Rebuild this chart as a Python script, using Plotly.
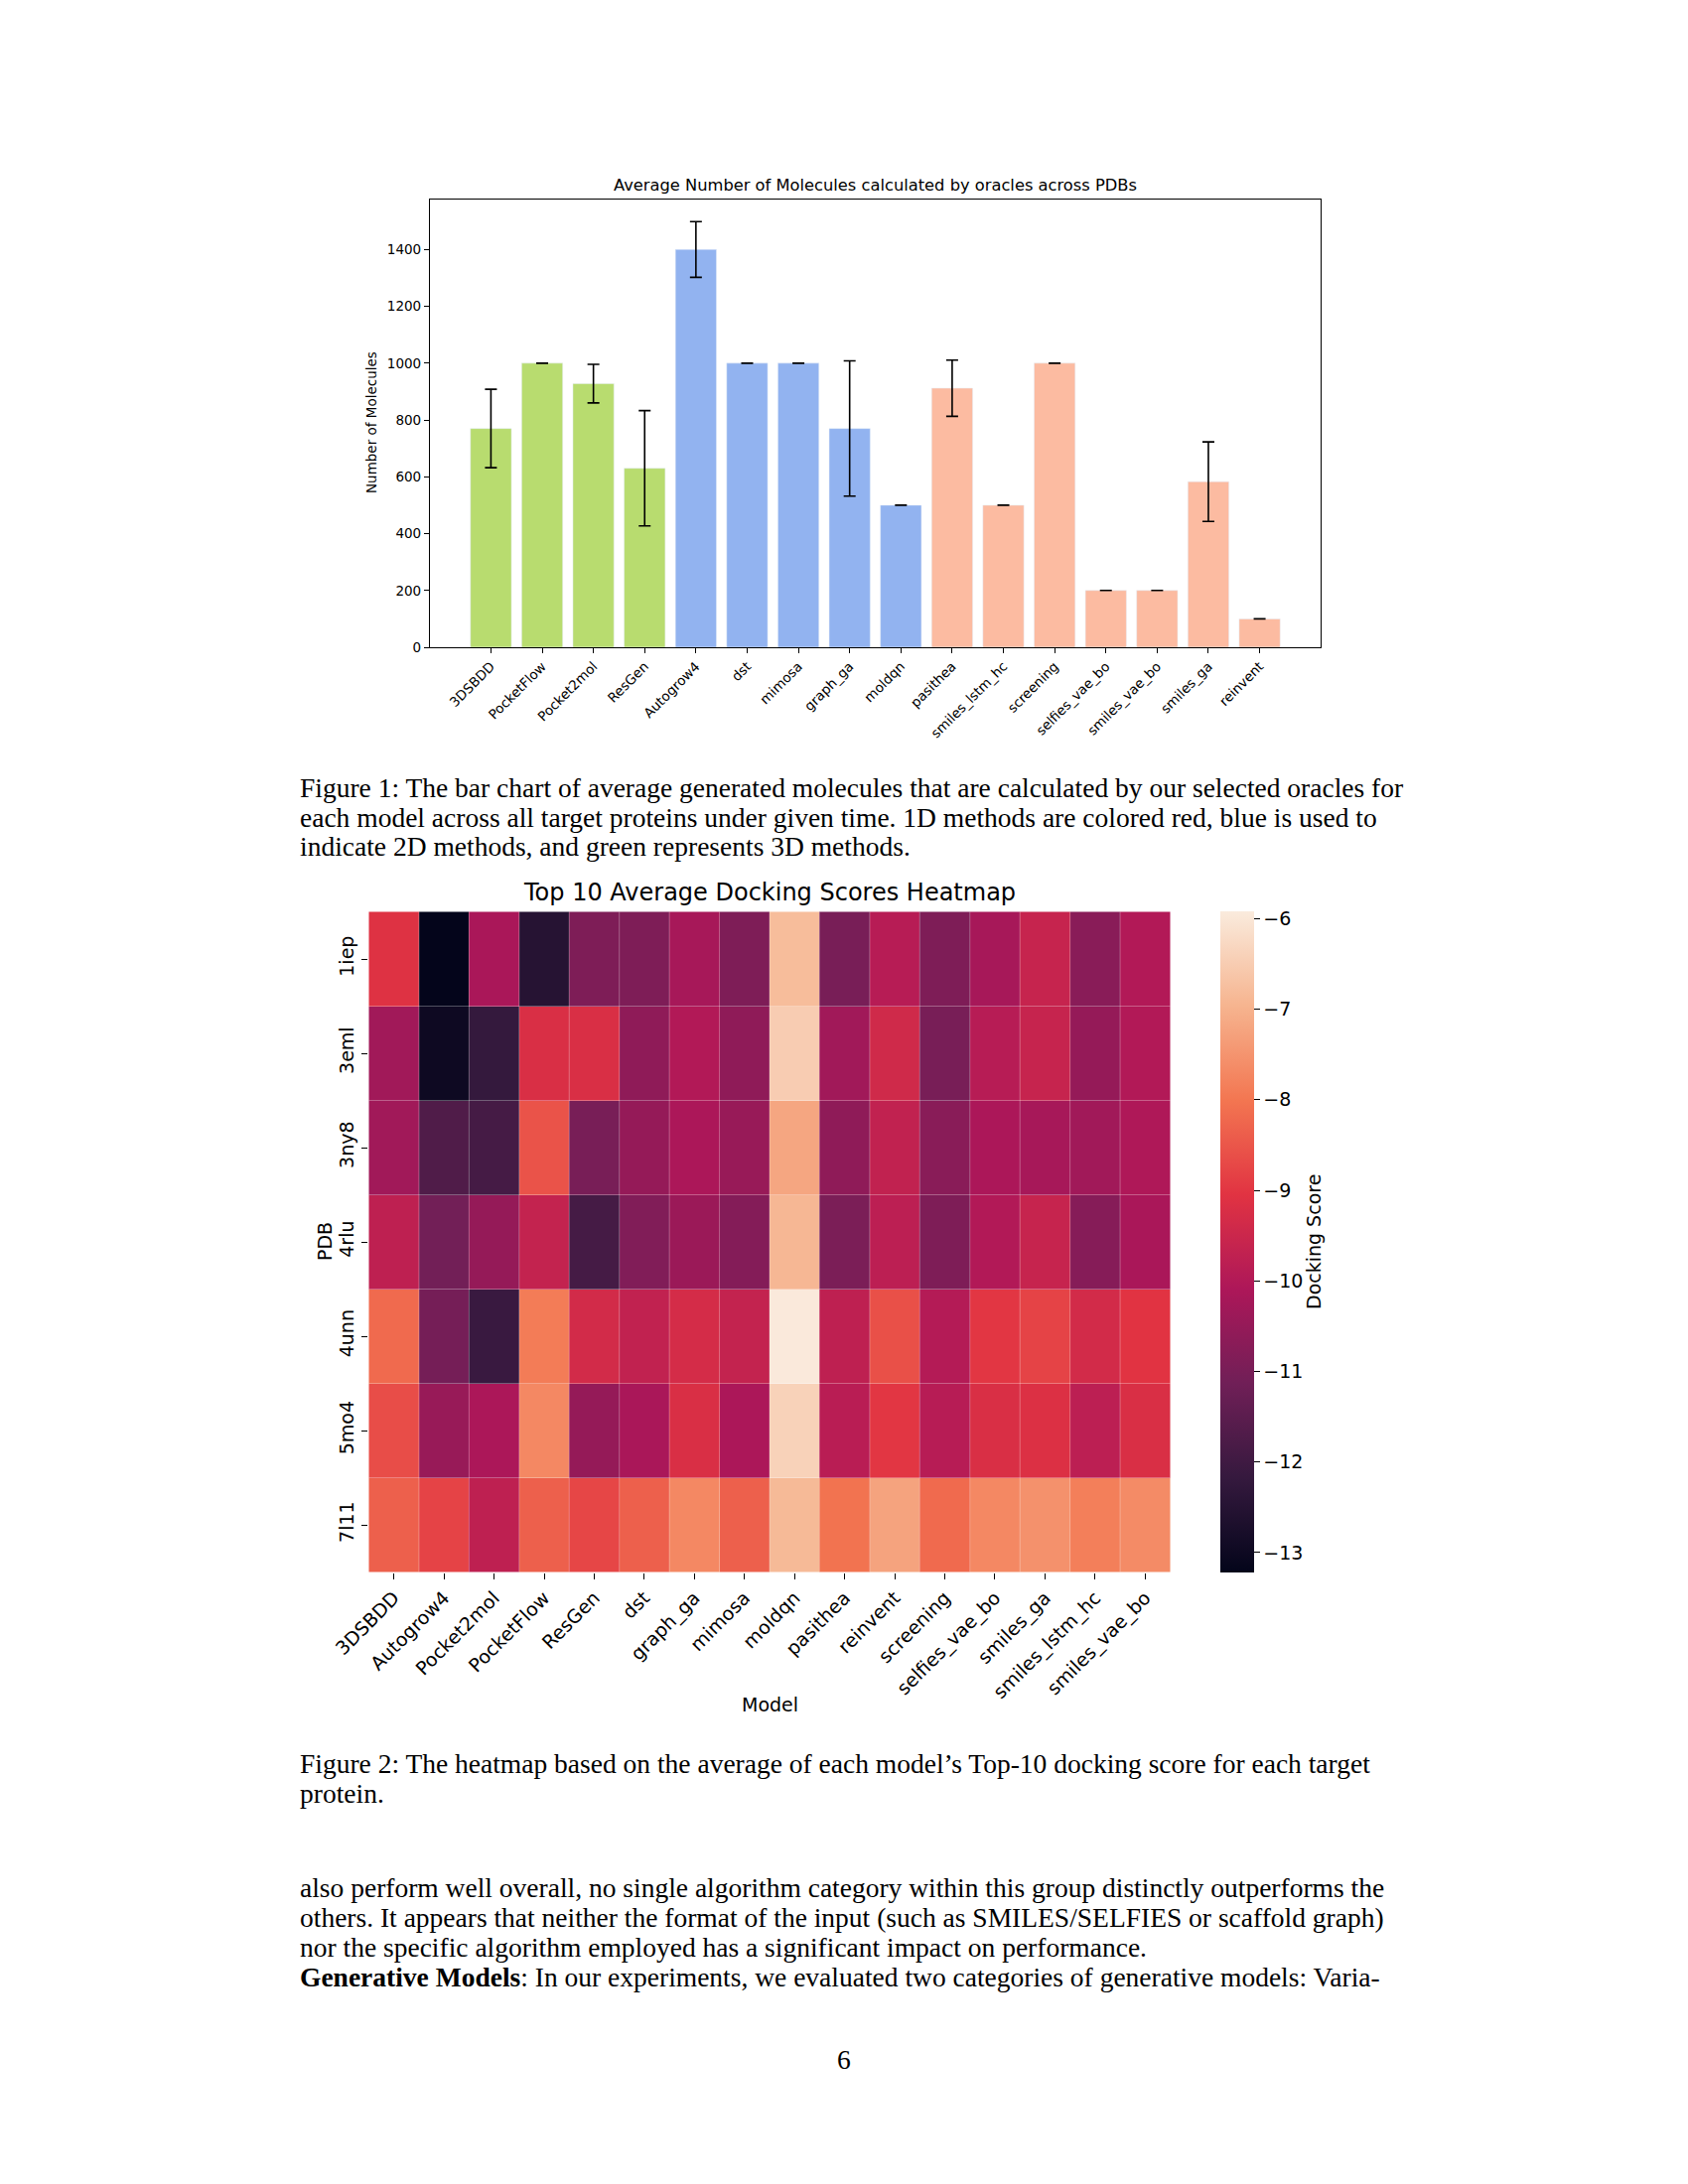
import plotly.graph_objects as go

# ---- bar chart data (Figure 1) ----
bar_models = ['3DSBDD', 'PocketFlow', 'Pocket2mol', 'ResGen', 'Autogrow4', 'dst', 'mimosa',
              'graph_ga', 'moldqn', 'pasithea', 'smiles_lstm_hc', 'screening', 'selfies_vae_bo',
              'smiles_vae_bo', 'smiles_ga', 'reinvent']
bar_means = [770, 1000, 928, 630, 1400, 1000, 1000, 770, 500, 912, 500, 1000, 200, 200, 583, 100]
bar_errors = [138, 0, 68, 203, 98, 0, 0, 238, 0, 99, 0, 0, 0, 0, 140, 0]
bar_dims = ['3D', '3D', '3D', '3D', '2D', '2D', '2D', '2D', '2D',
            '1D', '1D', '1D', '1D', '1D', '1D', '1D']
dim_colors = {'3D': '#b8dc6f', '2D': '#92b3f0', '1D': '#fcbba1'}

# ---- heatmap data (Figure 2) ----
heat_models = ['3DSBDD', 'Autogrow4', 'Pocket2mol', 'PocketFlow', 'ResGen', 'dst', 'graph_ga',
               'mimosa', 'moldqn', 'pasithea', 'reinvent', 'screening', 'selfies_vae_bo',
               'smiles_ga', 'smiles_lstm_hc', 'smiles_vae_bo']
pdbs = ['1iep', '3eml', '3ny8', '4rlu', '4unn', '5mo4', '7l11']
score_1iep = [-9.1, -13.2, -10.15, -12.5, -10.9, -10.9, -10.2, -10.9, -6.8, -11.0, -9.9, -10.9, -10.2, -9.6, -10.7, -10.0]
score_3eml = [-10.3, -13.0, -12.2, -9.2, -9.2, -10.6, -10.0, -10.6, -6.5, -10.3, -9.4, -11.0, -9.9, -9.6, -10.5, -10.0]
score_3ny8 = [-10.3, -11.7, -11.9, -8.55, -11.0, -10.5, -10.1, -10.45, -7.2, -10.6, -9.7, -10.7, -10.1, -10.2, -10.3, -10.05]
score_4rlu = [-9.75, -11.1, -10.5, -9.65, -11.9, -10.85, -10.4, -10.8, -6.9, -10.95, -9.8, -10.9, -10.0, -9.6, -10.75, -10.15]
score_4unn = [-8.2, -11.05, -12.1, -7.9, -9.35, -9.7, -9.3, -9.65, -5.95, -9.75, -8.6, -9.95, -9.0, -8.8, -9.35, -9.05]
score_5mo4 = [-8.65, -10.45, -10.1, -7.7, -10.5, -10.15, -9.2, -10.1, -6.4, -9.85, -9.0, -9.9, -9.2, -9.15, -9.8, -9.2]
score_7l11 = [-8.35, -8.8, -9.75, -8.35, -8.75, -8.35, -7.7, -8.35, -6.85, -8.05, -7.25, -8.2, -7.7, -7.55, -7.85, -7.65]
scores = [score_1iep, score_3eml, score_3ny8, score_4rlu, score_4unn, score_5mo4, score_7l11]

# seaborn "rocket" colormap
rocket = [[0.0, '#03051a'], [1 / 7, '#35193e'], [2 / 7, '#701f57'], [3 / 7, '#ad1759'],
          [4 / 7, '#e13342'], [5 / 7, '#f37651'], [6 / 7, '#f6b48f'], [1.0, '#faebdd']]

W, H = 1700, 2200
OFF = 8  # page body margin of the html page


def px(x):
    return (x - OFF) / W


def py(y):
    return 1 - (y - OFF) / H


fig = go.Figure()

fig.add_trace(go.Bar(
    x=bar_models, y=bar_means,
    marker_color=[dim_colors[d] for d in bar_dims],
    width=0.8,
    error_y=dict(type='data', array=bar_errors, color='black', thickness=1.6, width=6),
    xaxis='x', yaxis='y', showlegend=False
))

fig.add_trace(go.Heatmap(
    z=scores, x=heat_models, y=pdbs,
    colorscale=rocket, zmin=-13.22, zmax=-5.92,
    xaxis='x2', yaxis='y2',
    colorbar=dict(
        x=px(1229), xanchor='left', y=py(1584), yanchor='bottom', xpad=0, ypad=0,
        len=(1584 - 918) / H, lenmode='fraction', thickness=34, thicknessmode='pixels',
        outlinewidth=0, ticks='outside', ticklen=6, tickcolor='black',
        tickvals=[-6, -7, -8, -9, -10, -11, -12, -13],
        tickfont=dict(family='DejaVu Sans', size=19, color='black'),
    )
))

# faint white cell separators (seaborn linewidths)
sep = dict(color='rgba(255,255,255,0.3)', width=1)
shapes = []
for i in range(1, len(heat_models)):
    shapes.append(dict(type='line', xref='x2', yref='y2', x0=i - 0.5, x1=i - 0.5,
                       y0=-0.5, y1=len(pdbs) - 0.5, line=sep))
for j in range(1, len(pdbs)):
    shapes.append(dict(type='line', xref='x2', yref='y2', y0=j - 0.5, y1=j - 0.5,
                       x0=-0.5, x1=len(heat_models) - 0.5, line=sep))

small = dict(family='DejaVu Sans', size=13.5, color='black')
mid = dict(family='DejaVu Sans', size=19, color='black')

fig.update_layout(
    width=W, height=H,
    margin=dict(l=0, r=0, t=0, b=0, autoexpand=False),
    paper_bgcolor='white', plot_bgcolor='white',
    bargap=0.2,
    shapes=shapes,
    xaxis=dict(domain=[px(433), px(1330)], anchor='y', range=[-1.19, 16.19], automargin=False,
               tickangle=-45, tickfont=small, ticks='outside', ticklen=5, tickcolor='black',
               showline=True, linecolor='black', linewidth=1.2, mirror=True, showgrid=False),
    yaxis=dict(domain=[py(652), py(201)], anchor='x', range=[0, 1576], automargin=False,
               tickvals=[0, 200, 400, 600, 800, 1000, 1200, 1400],
               tickfont=small, ticks='outside', ticklen=5, tickcolor='black',
               showline=True, linecolor='black', linewidth=1.2, mirror=True, showgrid=False,
               zeroline=False),
    xaxis2=dict(domain=[px(371), px(1179)], anchor='y2', tickangle=-45, tickfont=mid,
                automargin=False, ticks='outside', ticklen=6, tickcolor='black', showgrid=False),
    yaxis2=dict(domain=[py(1584), py(918)], anchor='x2', autorange='reversed', automargin=False,
                tickangle=-90, tickfont=mid, ticks='outside', ticklen=6, tickcolor='black',
                showgrid=False),
)

annotations = [
    dict(text='Average Number of Molecules calculated by oracles across PDBs', x=px(881), y=py(187),
         font=dict(family='DejaVu Sans', size=16.3, color='black')),
    dict(text='Number of Molecules', x=px(374), y=py(426), textangle=-90, font=small),
    dict(text='Top 10 Average Docking Scores Heatmap', x=px(775), y=py(899),
         font=dict(family='DejaVu Sans', size=24, color='black')),
    dict(text='Model', x=px(775), y=py(1717), font=mid),
    dict(text='PDB', x=px(327), y=py(1251), textangle=-90, font=mid),
    dict(text='Docking Score', x=px(1323), y=py(1251), textangle=-90, font=mid),
]

serif = dict(family='Liberation Serif', size=27.5, color='black')
text_lines = [
    (793, 'Figure 1: The bar chart of average generated molecules that are calculated by our selected oracles for'),
    (823, 'each model across all target proteins under given time. 1D methods are colored red, blue is used to'),
    (853, 'indicate 2D methods, and green represents 3D methods.'),
    (1776, 'Figure 2: The heatmap based on the average of each model\u2019s Top-10 docking score for each target'),
    (1806, 'protein.'),
    (1901, 'also perform well overall, no single algorithm category within this group distinctly outperforms the'),
    (1931, 'others. It appears that neither the format of the input (such as SMILES/SELFIES or scaffold graph)'),
    (1961, 'nor the specific algorithm employed has a significant impact on performance.'),
    (1991, '<b>Generative Models</b>: In our experiments, we evaluated two categories of generative models: Varia-'),
]
for y, t in text_lines:
    annotations.append(dict(text=t, x=px(300), y=py(y), xanchor='left', font=serif))
annotations.append(dict(text='6', x=px(850), y=py(2074), font=serif))

for a in annotations:
    a.setdefault('xanchor', 'center')
    a.update(xref='paper', yref='paper', yanchor='middle', showarrow=False)
fig.update_layout(annotations=annotations)

fig.write_html('out.html')
